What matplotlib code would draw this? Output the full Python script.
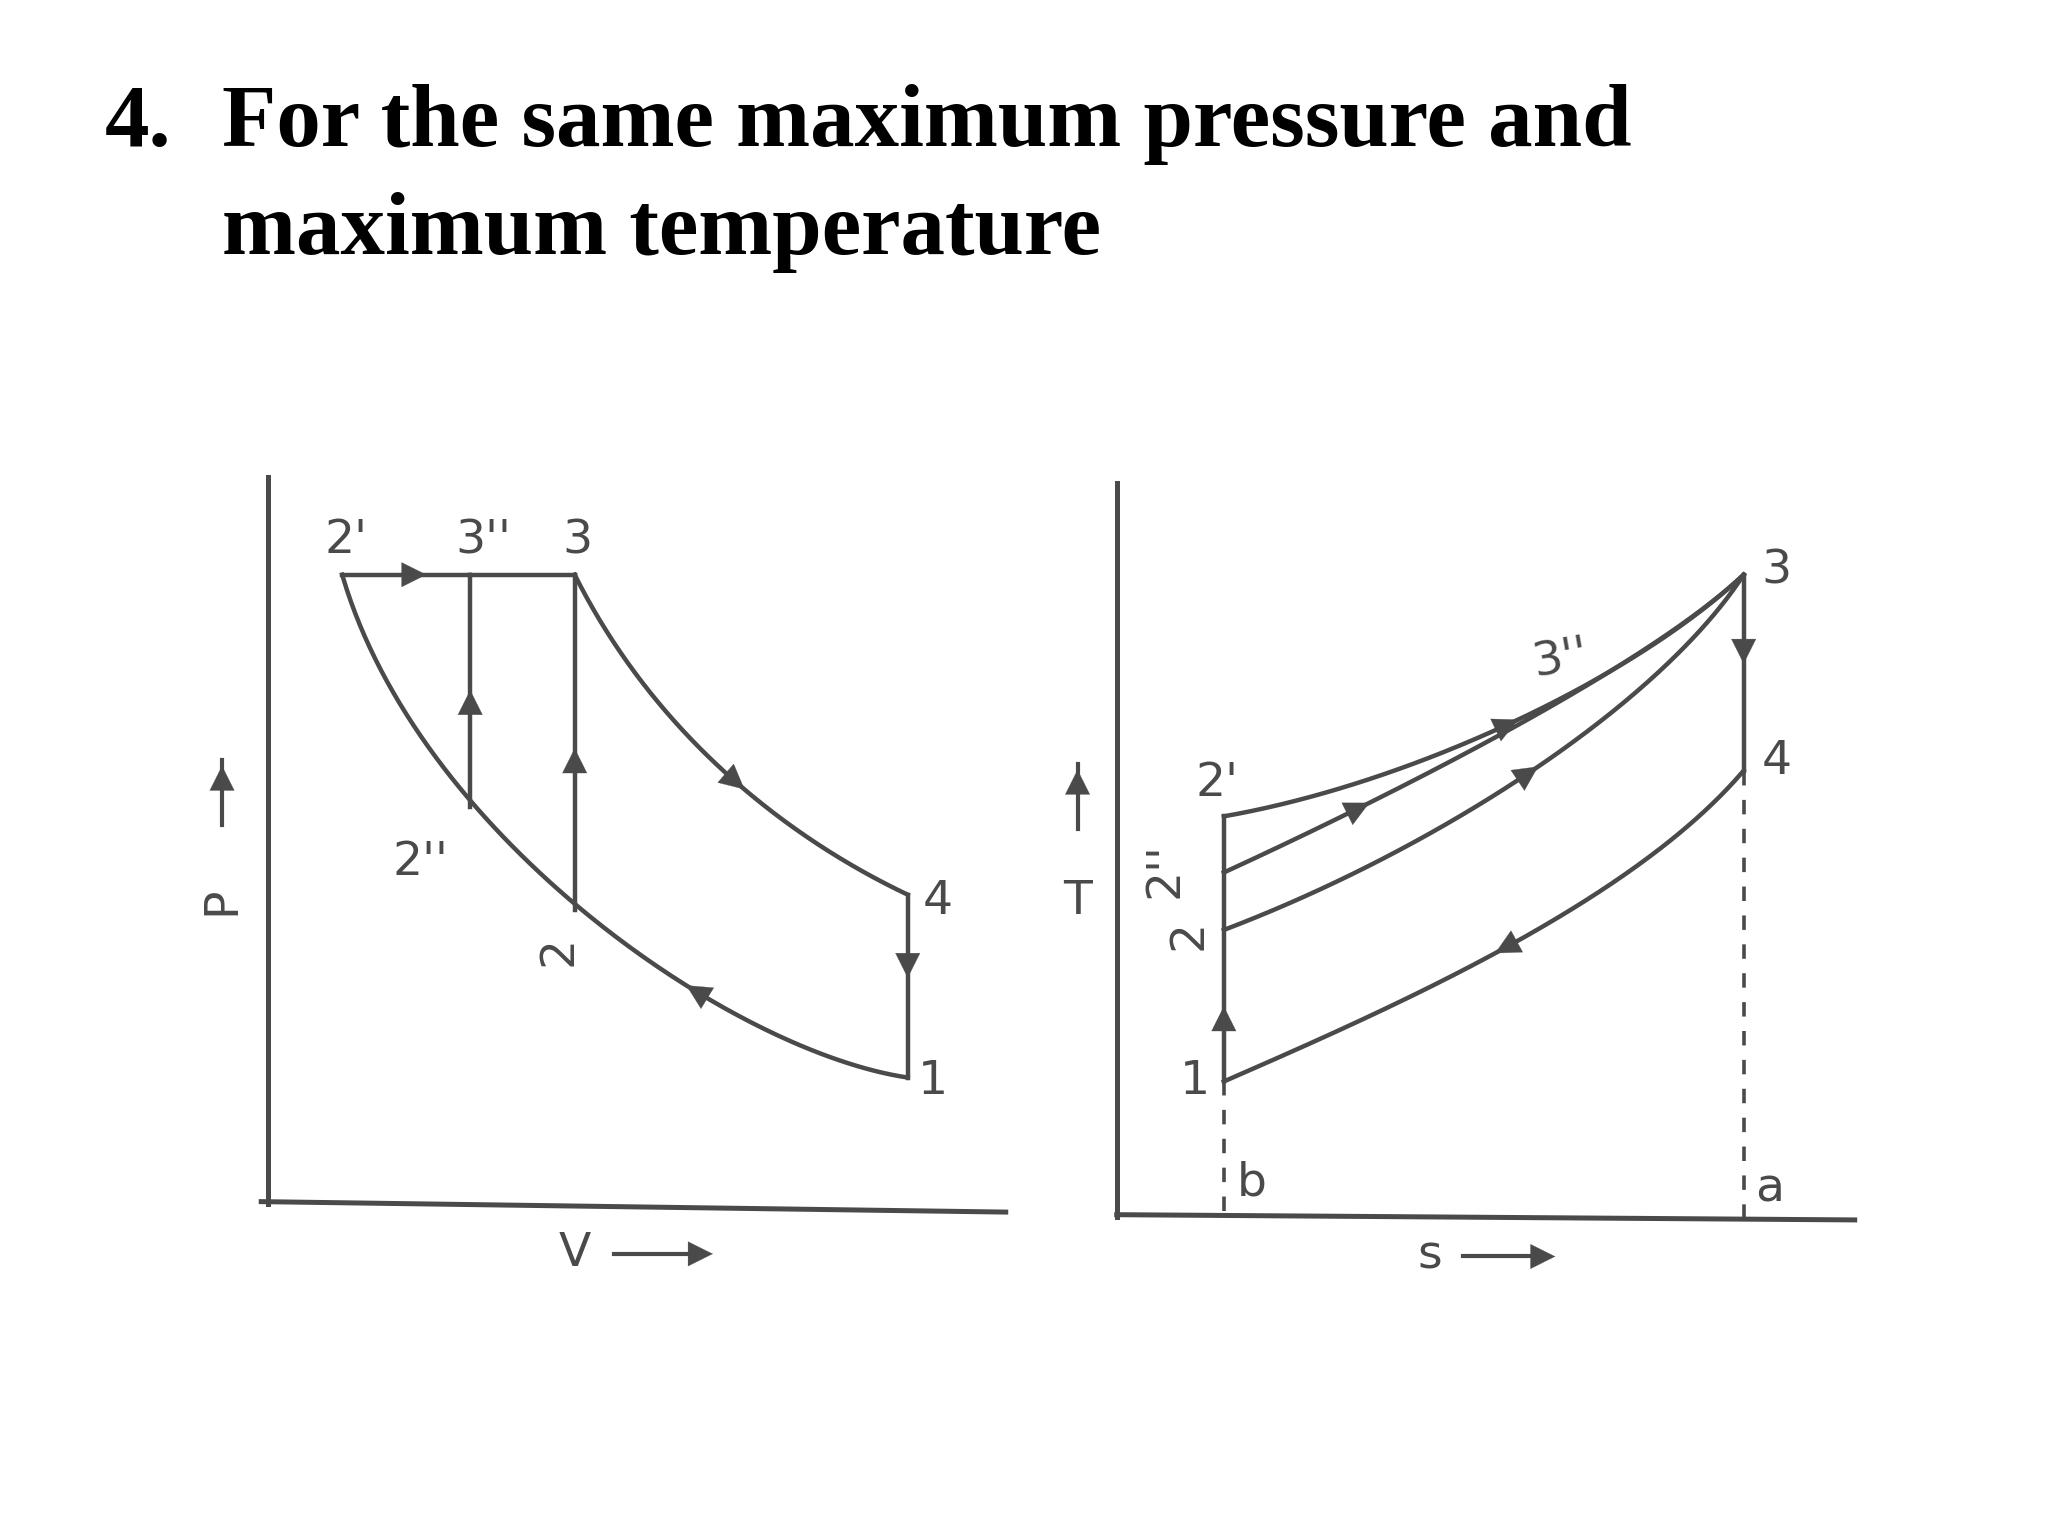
import numpy as np
import matplotlib.pyplot as plt

# state points (image units, y downwards)
pv_pts = {"1": (695, 825), "2": (440, 697), "2''": (360, 618), "2'": (262, 440),
          "3''": (360, 440), "3": (440, 440), "4": (695, 685)}
ts_pts = {"1": (937, 828), "2": (937, 712), "2''": (937, 668), "2'": (937, 625),
          "3''": (1205, 535), "3": (1335, 440), "4": (1335, 590)}

ink = "#4a4a4a"
fig = plt.figure(figsize=(10.24, 7.68), dpi=200)
ax = fig.add_axes([0, 0, 1, 1])
ax.set_xlim(0, 1568)
ax.set_ylim(1176, 0)
ax.axis("off")


def bez(p0, c1, c2, p3, t):
    t = np.asarray(t)[..., None]
    p0, c1, c2, p3 = map(np.array, (p0, c1, c2, p3))
    return (1 - t) ** 3 * p0 + 3 * (1 - t) ** 2 * t * c1 + 3 * (1 - t) * t ** 2 * c2 + t ** 3 * p3


def curve(p0, c1, c2, p3, arrow_t=None):
    pts = bez(p0, c1, c2, p3, np.linspace(0, 1, 200))
    ax.plot(pts[:, 0], pts[:, 1], color=ink, lw=1.6)
    if arrow_t is not None:
        a = bez(p0, c1, c2, p3, arrow_t - 0.02)
        b = bez(p0, c1, c2, p3, arrow_t + 0.02)
        head(a, b)


def head(a, b):
    ax.annotate("", xy=b, xytext=a,
                arrowprops=dict(arrowstyle="-|>", color=ink, lw=0.1, mutation_scale=22))


def line(p, q, arrow_frac=None):
    ax.plot([p[0], q[0]], [p[1], q[1]], color=ink, lw=1.6)
    if arrow_frac is not None:
        p, q = np.array(p), np.array(q)
        m = p + (q - p) * arrow_frac
        d = (q - p) / np.linalg.norm(q - p)
        head(m - d * 5, m + d * 5)


def txt(x, y, s, size=17, rot=0):
    ax.text(x, y, s, fontsize=size, color=ink, ha="center", va="center",
            rotation=rot, family="DejaVu Sans")


# title
tfont = dict(fontsize=32, weight="bold", family="Liberation Serif", va="center")
ax.text(80, 95, "4.", **tfont)
ax.text(170, 95, "For the same maximum pressure and", **tfont)
ax.text(170, 178, "maximum temperature", **tfont)

# ---- P-V diagram
ax.plot([205, 205], [365, 922], color=ink, lw=1.8)
ax.plot([200, 770], [920, 928], color=ink, lw=1.8)
P = pv_pts
line(P["2'"], P["3''"], 0.65)
line(P["3''"], P["3"])
line(P["2''"], P["3''"], 0.5)
line(P["2"], P["3"], 0.48)
line(P["4"], P["1"], 0.45)
curve(P["1"], (560, 805), (320, 640), P["2'"], 0.34)
curve(P["3"], (500, 560), (600, 640), P["4"], 0.55)
txt(265, 414, "2'"); txt(370, 414, "3''"); txt(442, 414, "3")
txt(322, 660, "2''"); txt(428, 728, "2", rot=90)
txt(718, 690, "4"); txt(714, 828, "1")
txt(170, 690, "P", rot=90)
head((170, 625), (170, 582))
ax.plot([170, 170], [582, 632], color=ink, lw=1.5)
txt(440, 960, "V")
ax.plot([470, 540], [960, 960], color=ink, lw=1.5)
head((520, 960), (550, 960))

# ---- T-s diagram
ax.plot([855, 855], [370, 932], color=ink, lw=1.8)
ax.plot([855, 1420], [930, 934], color=ink, lw=1.8)
T = ts_pts
line(T["1"], T["2'"], 0.28)
line(T["3"], T["4"], 0.45)
ax.plot([T["1"][0]] * 2, [T["1"][1], 930], color=ink, lw=1.3, ls=(0, (4, 4)))
ax.plot([T["4"][0]] * 2, [T["4"][1], 932], color=ink, lw=1.3, ls=(0, (4, 4)))
curve(T["1"], (1070, 770), (1250, 690), T["4"])
head(bez(T["4"], (1250, 690), (1070, 770), T["1"], 0.5), bez(T["4"], (1250, 690), (1070, 770), T["1"], 0.53))
curve(T["2'"], (1080, 600), (1250, 520), T["3"], 0.5)
curve(T["2''"], (1020, 630), (1250, 520), T["3"], 0.3)
curve(T["2"], (1100, 650), (1270, 540), T["3"], 0.5)
txt(932, 600, "2'"); txt(892, 666, "2''", rot=90); txt(910, 716, "2", rot=90)
txt(1195, 505, "3''", rot=10); txt(1360, 437, "3"); txt(1360, 583, "4")
txt(915, 828, "1"); txt(958, 906, "b"); txt(1355, 910, "a")
txt(825, 690, "T")
ax.plot([825, 825], [585, 635], color=ink, lw=1.5)
head((825, 625), (825, 585))
txt(1095, 962, "s")
ax.plot([1120, 1180], [962, 962], color=ink, lw=1.5)
head((1165, 962), (1195, 962))

fig.savefig("out.png", facecolor="white")
